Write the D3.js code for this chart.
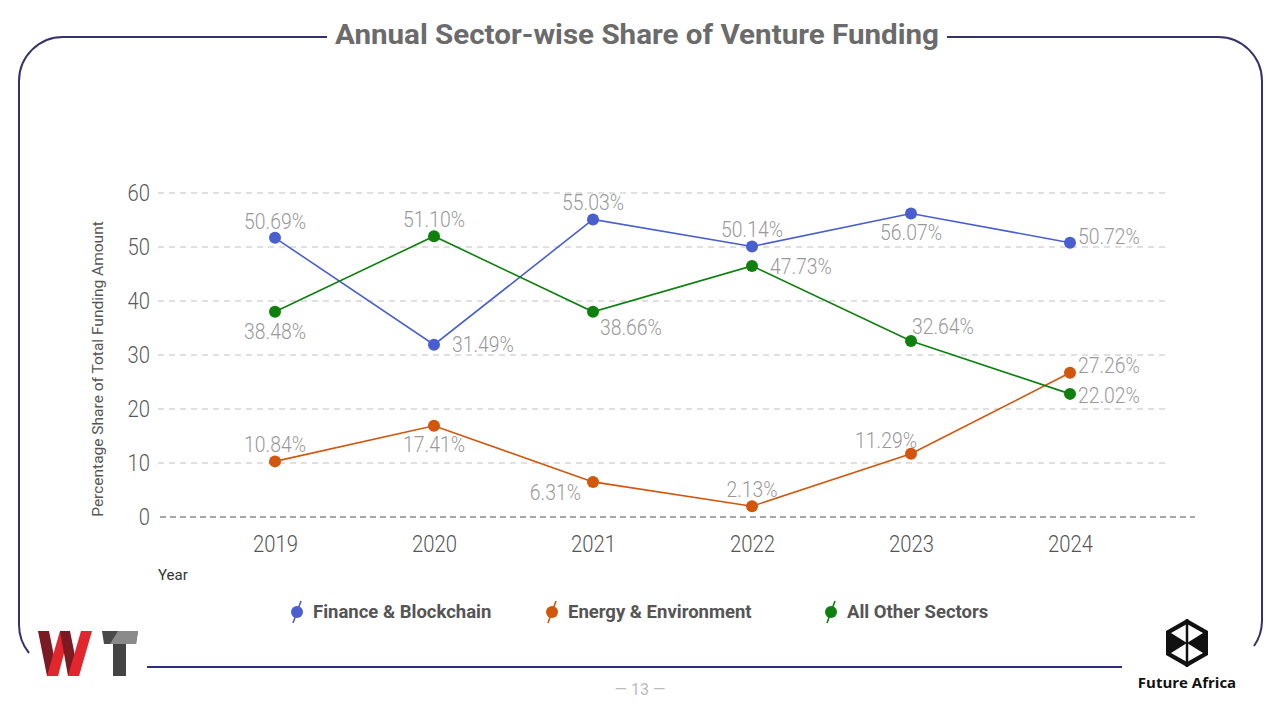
<!DOCTYPE html>
<html>
<head>
<meta charset="utf-8">
<script src="https://cdn.jsdelivr.net/npm/d3@7/dist/d3.min.js"></script>
<style>
  html, body { margin: 0; padding: 0; background: #fff; }
  svg { display: block; }
</style>
</head>
<body>
<svg id="chart" width="1280" height="720"></svg>
<script>
// ---------- DATA ----------
const years = ["2019", "2020", "2021", "2022", "2023", "2024"];
const yTicks = [0, 10, 20, 30, 40, 50, 60];
const seriesNames = ["Finance & Blockchain", "Energy & Environment", "All Other Sectors"];
const seriesColors = ["#4a5fcf", "#d2560c", "#0e800e"];
// plotted positions
const financeValues = [51.7, 31.9, 55.1, 50.1, 56.2, 50.8];
const energyValues  = [10.3, 16.9, 6.5, 2.0, 11.7, 26.7];
const otherValues   = [38.0, 52.0, 38.0, 46.5, 32.6, 22.8];
// label texts as printed
const financeLabels = ["50.69%", "31.49%", "55.03%", "50.14%", "56.07%", "50.72%"];
const energyLabels  = ["10.84%", "17.41%", "6.31%", "2.13%", "11.29%", "27.26%"];
const otherLabels   = ["38.48%", "51.10%", "38.66%", "47.73%", "32.64%", "22.02%"];
// label placement codes
const financePlace = ["above", "right-far", "above", "above", "below", "right-up"];
const energyPlace  = ["above", "below", "below-left", "above", "above-left", "right-high"];
const otherPlace   = ["below", "above", "below-right", "right-far", "above-right", "right"];

const series = [
  { name: seriesNames[0], color: seriesColors[0], values: financeValues, labels: financeLabels, place: financePlace },
  { name: seriesNames[1], color: seriesColors[1], values: energyValues, labels: energyLabels, place: energyPlace },
  { name: seriesNames[2], color: seriesColors[2], values: otherValues, labels: otherLabels, place: otherPlace }
];

const svg = d3.select("#chart");
const SX = 0.88; // horizontal condensing for narrow look

// ---------- FRAME ----------
const frameColor = "#34346a";
svg.append("path")
  .attr("d", "M 327 37 H 63 A 44 44 0 0 0 19 81 V 625 A 45 45 0 0 0 29 653")
  .attr("fill", "none").attr("stroke", frameColor).attr("stroke-width", 2);
svg.append("path")
  .attr("d", "M 947 37 H 1218 A 44 44 0 0 1 1262 81 V 620 A 45 45 0 0 1 1254 646")
  .attr("fill", "none").attr("stroke", frameColor).attr("stroke-width", 2);

svg.append("text")
  .attr("x", 637).attr("y", 44)
  .attr("text-anchor", "middle")
  .attr("font-family", "Roboto, sans-serif")
  .attr("font-weight", 700)
  .attr("font-size", 28)
  .attr("fill", "#6b6b6b")
  .attr("textLength", 604)
  .attr("lengthAdjust", "spacingAndGlyphs")
  .text("Annual Sector-wise Share of Venture Funding");

// bottom rule
svg.append("line")
  .attr("x1", 147).attr("x2", 1122).attr("y1", 667).attr("y2", 667)
  .attr("stroke", "#2e2e7c").attr("stroke-width", 2);

// ---------- SCALES ----------
const x = d3.scalePoint().domain(years).range([275, 1070]);
const y = d3.scaleLinear().domain([0, 60]).range([517, 193]);

// gridlines
const grid = svg.append("g");
grid.selectAll("line.g")
  .data(yTicks.filter(t => t !== 0))
  .join("line")
  .attr("x1", 158).attr("x2", 1168)
  .attr("y1", d => y(d)).attr("y2", d => y(d))
  .attr("stroke", "#d6d6d6").attr("stroke-width", 1.3)
  .attr("stroke-dasharray", "6,5");
grid.append("line")
  .attr("x1", 160).attr("x2", 1195)
  .attr("y1", y(0)).attr("y2", y(0))
  .attr("stroke", "#8a8a8a").attr("stroke-width", 1.5)
  .attr("stroke-dasharray", "6,4");

// y axis
const yAxis = svg.append("g")
  .attr("transform", "translate(150,0)")
  .call(d3.axisLeft(y).tickValues(yTicks).tickSize(0).tickPadding(0).tickFormat(d3.format("d")));
yAxis.select(".domain").remove();
yAxis.selectAll("text")
  .attr("font-family", "Roboto, sans-serif")
  .attr("font-weight", 300)
  .attr("font-size", 23)
  .attr("fill", "#5a5a5a")
  .attr("x", 0)
  .attr("transform", `scale(${SX},1)`);

// x axis
const xAxis = svg.append("g")
  .attr("transform", "translate(0,544)")
  .call(d3.axisBottom(x).tickSize(0).tickPadding(0));
xAxis.select(".domain").remove();
xAxis.selectAll(".tick text")
  .attr("font-family", "Roboto, sans-serif")
  .attr("font-weight", 300)
  .attr("font-size", 23)
  .attr("fill", "#555")
  .attr("y", 0)
  .attr("dy", "0.35em")
  .attr("transform", `scale(${SX},1)`);

// axis titles
svg.append("text")
  .attr("transform", "translate(103,369) rotate(-90)")
  .attr("text-anchor", "middle")
  .attr("font-family", "Roboto, sans-serif")
  .attr("font-size", 15.5)
  .attr("fill", "#555")
  .text("Percentage Share of Total Funding Amount");
svg.append("text")
  .attr("x", 158).attr("y", 580)
  .attr("font-family", "Roboto, sans-serif")
  .attr("font-size", 15)
  .attr("fill", "#333")
  .text("Year");

// ---------- LINES & POINTS ----------
const line = d3.line().x((d, i) => x(years[i])).y(d => y(d));
const plot = svg.append("g");
series.forEach(s => {
  plot.append("path")
    .attr("d", line(s.values))
    .attr("fill", "none")
    .attr("stroke", s.color)
    .attr("stroke-width", 1.6);
});
series.forEach(s => {
  plot.selectAll(null)
    .data(s.values)
    .join("circle")
    .attr("cx", (d, i) => x(years[i]))
    .attr("cy", d => y(d))
    .attr("r", 6)
    .attr("fill", s.color);
});

// ---------- LABELS ----------
const placeRules = {
  "above":       { dx: 0,   dy: -17, anchor: "middle" },
  "below":       { dx: 0,   dy: 19,  anchor: "middle" },
  "right":       { dx: 8,   dy: 1,   anchor: "start" },
  "right-up":    { dx: 8,   dy: -6,  anchor: "start" },
  "right-high":  { dx: 8,   dy: -8,  anchor: "start" },
  "right-far":   { dx: 18,  dy: 0,   anchor: "start" },
  "below-right": { dx: 7,   dy: 15,  anchor: "start" },
  "below-left":  { dx: -12, dy: 10,  anchor: "end" },
  "above-right": { dx: 1,   dy: -15, anchor: "start" },
  "above-left":  { dx: 6,   dy: -14, anchor: "end" }
};
const labels = svg.append("g");
series.forEach(s => {
  s.values.forEach((v, i) => {
    const r = placeRules[s.place[i]];
    labels.append("text")
      .attr("transform", `translate(${x(years[i]) + r.dx},${y(v) + r.dy}) scale(${SX},1)`)
      .attr("text-anchor", r.anchor)
      .attr("dy", "0.35em")
      .attr("font-family", "Roboto, sans-serif")
      .attr("font-weight", 300)
      .attr("font-size", 22)
      .attr("fill", "#999")
      .text(s.labels[i]);
  });
});

// ---------- LEGEND ----------
const legendX = [297, 552, 831];
const legend = svg.append("g");
series.forEach((s, i) => {
  const g = legend.append("g").attr("transform", `translate(${legendX[i]},612)`);
  g.append("line")
    .attr("x1", 4).attr("y1", -11).attr("x2", -4).attr("y2", 11)
    .attr("stroke", s.color).attr("stroke-width", 1.6);
  g.append("circle").attr("r", 6).attr("fill", s.color);
  g.append("text")
    .attr("x", 16).attr("dy", "0.35em")
    .attr("font-family", "Roboto, sans-serif")
    .attr("font-weight", 700)
    .attr("font-size", 18.5)
    .attr("fill", "#555")
    .text(s.name);
});

// ---------- LOGOS ----------
const wt = svg.append("g");
const dark = "#7b1a22", red = "#e2262d";
[
  [[38,631],[49,631],[58,676],[47,676], dark],
  [[47,676],[58,676],[70,631],[60,631], red],
  [[60,631],[70,631],[79,676],[68,676], dark],
  [[68,676],[79,676],[92,631],[81,631], red]
].forEach(p => {
  wt.append("polygon").attr("points", p.slice(0,4).map(q => q.join(",")).join(" ")).attr("fill", p[4]);
});
wt.append("polygon").attr("points", "102,631 138,631 136,644 104,644").attr("fill", "#4a4a4a");
wt.append("polygon").attr("points", "118,631 138,631 136,644 110,644").attr("fill", "#8a8a8a");
wt.append("rect").attr("x", 113).attr("y", 644).attr("width", 13).attr("height", 32).attr("fill", "#444");

const fa = svg.append("g");
fa.append("polygon").attr("points", "1187,619 1208,631 1208,655 1187,667 1166,655 1166,631").attr("fill", "#111");
fa.append("polygon").attr("points", "1171,633 1187,624 1203,633 1187,643").attr("fill", "#fff");
fa.append("polygon").attr("points", "1171,653 1187,662 1203,653 1187,643").attr("fill", "#fff");
fa.append("line").attr("x1", 1187).attr("x2", 1187).attr("y1", 619).attr("y2", 667).attr("stroke", "#111").attr("stroke-width", 2.5);
fa.append("text")
  .attr("x", 1187).attr("y", 688)
  .attr("text-anchor", "middle")
  .attr("font-family", "'Open Sans', sans-serif")
  .attr("font-weight", 700)
  .attr("font-size", 15)
  .attr("fill", "#111")
  .text("Future Africa");

// page number
svg.append("text")
  .attr("x", 640).attr("y", 695)
  .attr("text-anchor", "middle")
  .attr("font-family", "Roboto, sans-serif")
  .attr("font-size", 16)
  .attr("fill", "#bbb")
  .text("— 13 —");
</script>
</body>
</html>
